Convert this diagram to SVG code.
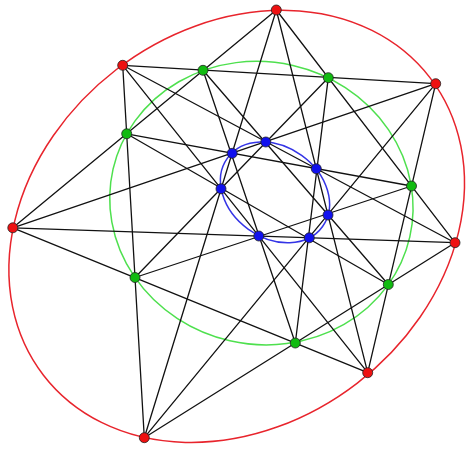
<svg xmlns="http://www.w3.org/2000/svg" width="474" height="451" viewBox="0 0 474 451">
<style>
.bg{fill:#ffffff}
.conic{fill:none;stroke-width:1.5}
.cr{stroke:#e8242c}
.cg{stroke:#4ee04e}
.cb{stroke:#3434e6}
.edges line{stroke:#111111;stroke-width:1.3;stroke-linecap:round}
.pt{stroke:#222222;stroke-width:0.8}
.red{fill:#ee1111}
.green{fill:#11bb11}
.blue{fill:#1111ee}
</style>
<rect class="bg" x="0" y="0" width="474" height="451"/>
<g id="conics">
<ellipse class="conic cr" cx="236.7" cy="226.4" rx="243.9" ry="197.7" transform="rotate(-37.6 236.7 226.4)"/>
<ellipse class="conic cg" cx="261.4" cy="203.1" rx="152.2" ry="141.2" transform="rotate(12.9 261.4 203.1)"/>
<ellipse class="conic cb" cx="275" cy="192.3" rx="58.6" ry="45.6" transform="rotate(35.7 275 192.3)"/>
</g>
<g id="connectors" class="edges">
<line x1="276.3" y1="10" x2="455" y2="242.7"/>
<line x1="435.7" y1="83.7" x2="367.7" y2="372.7"/>
<line x1="455" y1="242.7" x2="144.3" y2="437.7"/>
<line x1="367.7" y1="372.7" x2="12.8" y2="227.8"/>
<line x1="144.3" y1="437.7" x2="122.7" y2="65.3"/>
<line x1="12.8" y1="227.8" x2="276.3" y2="10"/>
<line x1="122.7" y1="65.3" x2="435.7" y2="83.7"/>
<line x1="276.3" y1="10" x2="367.7" y2="372.7"/>
<line x1="435.7" y1="83.7" x2="144.3" y2="437.7"/>
<line x1="455" y1="242.7" x2="12.8" y2="227.8"/>
<line x1="367.7" y1="372.7" x2="122.7" y2="65.3"/>
<line x1="144.3" y1="437.7" x2="276.3" y2="10"/>
<line x1="12.8" y1="227.8" x2="435.7" y2="83.7"/>
<line x1="122.7" y1="65.3" x2="455" y2="242.7"/>
<line x1="203" y1="70.3" x2="388.3" y2="284.5"/>
<line x1="328.3" y1="77.7" x2="295.3" y2="343"/>
<line x1="411.5" y1="186" x2="135" y2="277.5"/>
<line x1="388.3" y1="284.5" x2="126.7" y2="133.8"/>
<line x1="295.3" y1="343" x2="203" y2="70.3"/>
<line x1="135" y1="277.5" x2="328.3" y2="77.7"/>
<line x1="126.7" y1="133.8" x2="411.5" y2="186"/>
</g>
<g id="R1"><circle class="pt red" cx="276.3" cy="10" r="5"/></g>
<g id="R2"><circle class="pt red" cx="435.7" cy="83.7" r="5"/></g>
<g id="R3"><circle class="pt red" cx="455" cy="242.7" r="5"/></g>
<g id="R4"><circle class="pt red" cx="367.7" cy="372.7" r="5"/></g>
<g id="R5"><circle class="pt red" cx="144.3" cy="437.7" r="5"/></g>
<g id="R6"><circle class="pt red" cx="12.8" cy="227.8" r="5"/></g>
<g id="R7"><circle class="pt red" cx="122.7" cy="65.3" r="5"/></g>
<g id="G1"><circle class="pt green" cx="203" cy="70.3" r="5"/></g>
<g id="G2"><circle class="pt green" cx="328.3" cy="77.7" r="5"/></g>
<g id="G3"><circle class="pt green" cx="411.5" cy="186" r="5"/></g>
<g id="G4"><circle class="pt green" cx="388.3" cy="284.5" r="5"/></g>
<g id="G5"><circle class="pt green" cx="295.3" cy="343" r="5"/></g>
<g id="G6"><circle class="pt green" cx="135" cy="277.5" r="5"/></g>
<g id="G7"><circle class="pt green" cx="126.7" cy="133.8" r="5"/></g>
<g id="B1"><circle class="pt blue" cx="265.8" cy="142" r="5"/></g>
<g id="B2"><circle class="pt blue" cx="316.3" cy="168.8" r="5"/></g>
<g id="B3"><circle class="pt blue" cx="328" cy="215" r="5"/></g>
<g id="B4"><circle class="pt blue" cx="309.3" cy="237.8" r="5"/></g>
<g id="B5"><circle class="pt blue" cx="258.8" cy="236" r="5"/></g>
<g id="B6"><circle class="pt blue" cx="221" cy="188.8" r="5"/></g>
<g id="B7"><circle class="pt blue" cx="232.2" cy="153.3" r="5"/></g>
</svg>
